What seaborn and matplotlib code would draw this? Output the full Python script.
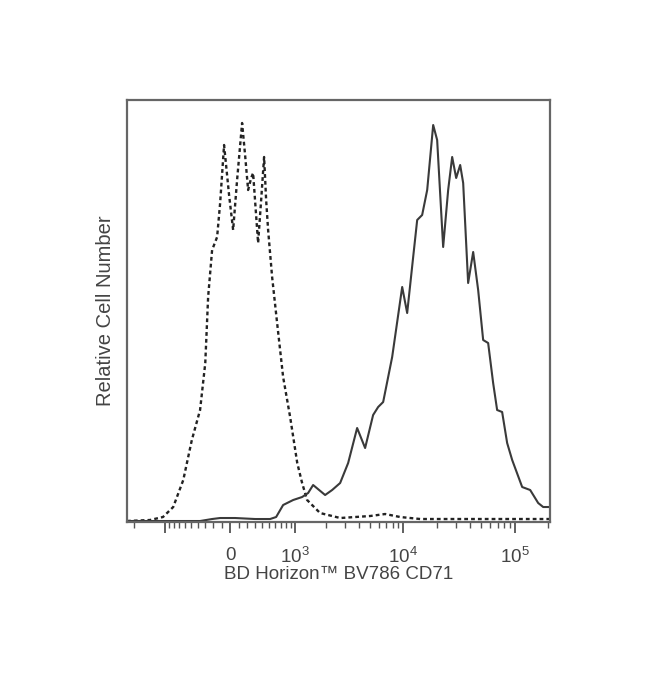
import numpy as np
import pandas as pd
import seaborn as sns
import matplotlib
matplotlib.use("Agg")
import matplotlib.pyplot as plt

# Fluorescence values (BV786 CD71) and relative cell counts
iso_x = [-2320, -1410, -1050, -820, -630, -490, -370, -300, -263, -213, -152, -116,
         -70, -12, 35, 81, 140, 176, 213, 251, 276, 315, 342, 384, 426, 456, 486,
         549, 633, 743, 886, 1050, 1175, 1316, 1750, 2690, 5030, 6870, 9370, 14200,
         26300, 74000, 207000]
iso_y = [0.25, 0.5, 1.25, 3.75, 10.5, 20.5, 28, 39.75, 56.25, 68, 71.25, 79.75,
         94.25, 81.75, 73, 85.5, 99.75, 91.75, 83, 86, 87.25, 76.75, 69.75, 80.5,
         91.25, 80.5, 73, 61.25, 49.75, 36.25, 26.25, 14.75, 9.75, 5.5, 2.25, 1,
         1.5, 2, 1.25, 0.75, 0.75, 0.75, 0.75]

cd71_x = [-2320, -370, -213, -116, 58, 302, 517, 616, 743, 953, 1175, 1346, 1504,
          1715, 1952, 2268, 2686, 3179, 3836, 4530, 5350, 5940, 6590, 7940, 9770,
          10830, 12260, 13320, 14760, 16380, 18540, 20120, 22780, 25260, 27440,
          29810, 32370, 34440, 38160, 42340, 46930, 52030, 57680, 63950, 69440,
          77000, 85400, 94750, 116450, 137400, 162100, 179700, 207000]
cd71_y = [0.25, 0.25, 0.75, 1, 1, 0.75, 0.75, 1.25, 4.25, 5.5, 6.25, 7.25, 9.25,
          8, 6.75, 8, 9.75, 14.75, 23.5, 18.5, 26.75, 28.75, 30, 41.25, 58.75,
          52.25, 66.25, 75.5, 76.75, 83, 99.25, 95.5, 68.75, 83, 91.25, 86, 89.25,
          84.75, 59.75, 67.5, 58, 45.5, 44.75, 34.75, 28, 27.5, 19.75, 15.5, 8.75,
          8, 4.75, 3.75, 3.75]

major_ticks = [-1000, 0, 1e3, 1e4, 1e5]
major_labels = ["", "0", "$10^3$", "$10^4$", "$10^5$"]
minor_ticks = ([-2000] + list(range(-900, 0, 100)) + list(range(100, 1000, 100))
               + list(range(2000, 10000, 1000)) + list(range(20000, 100000, 10000))
               + [200000])

iso = pd.DataFrame({"x": iso_x, "y": iso_y})
cd71 = pd.DataFrame({"x": cd71_x, "y": cd71_y})

sns.set_style("ticks")
plt.rcParams["font.family"] = ["Liberation Sans", "DejaVu Sans"]
plt.rcParams["mathtext.fontset"] = "custom"
plt.rcParams["mathtext.rm"] = "Liberation Sans"
plt.rcParams["mathtext.it"] = "Liberation Sans"
plt.rcParams["mathtext.default"] = "regular"

fig = plt.figure(figsize=(6.5, 6.83), dpi=100)
ax = fig.add_axes([0.1954, 0.2357, 0.6508, 0.6179])

sns.lineplot(data=iso, x="x", y="y", ax=ax, color="#222222", linewidth=1.7,
             linestyle=(0, (1.6, 1.3)))
sns.lineplot(data=cd71, x="x", y="y", ax=ax, color="#3a3a3a", linewidth=1.5)

ax.set_xscale("asinh", linear_width=560)
ax.set_xlim(-2320, 207000)
ax.set_ylim(0, 105.5)

ax.set_xticks(major_ticks)
ax.set_xticklabels(major_labels)
ax.set_xticks(minor_ticks, minor=True)
ax.tick_params(axis="x", which="major", length=8, width=1.2, color="#444444",
               labelsize=13.5, labelcolor="#444444", pad=10)
ax.tick_params(axis="x", which="minor", length=4, width=1.0, color="#555555")
ax.set_yticks([])

for side in ax.spines.values():
    side.set_color("#666666")
    side.set_linewidth(1.6)

ax.set_xlabel("BD Horizon\u2122 BV786 CD71", fontsize=13.5, color="#444444", labelpad=-1)
ax.set_ylabel("Relative Cell Number", fontsize=14.5, color="#444444", labelpad=9)

fig.savefig("out.png", dpi=100)
